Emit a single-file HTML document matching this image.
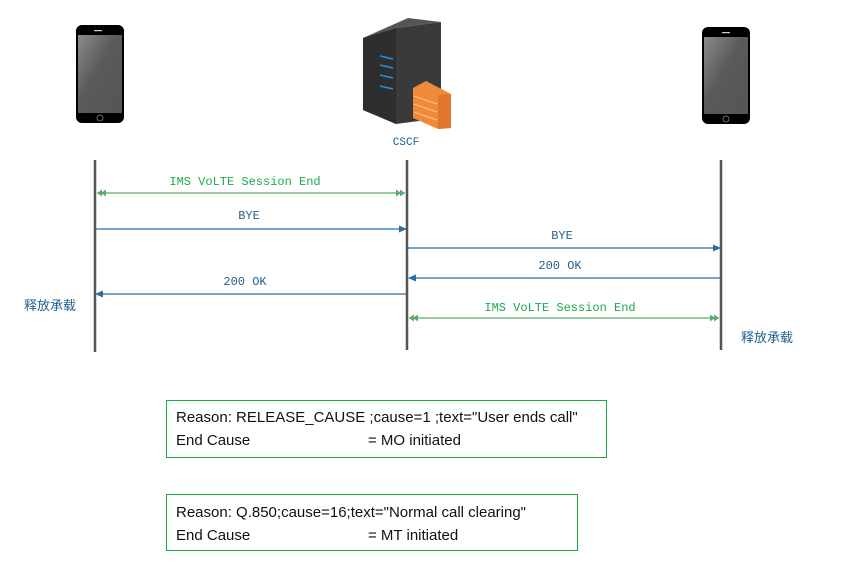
<!DOCTYPE html>
<html><head><meta charset="utf-8"><style>
html,body{margin:0;padding:0;background:#fff;}
svg{display:block;}
.m{font-family:"Liberation Mono","Noto Sans CJK SC",monospace;font-size:12px;}
.c{font-family:"Liberation Sans","Noto Sans CJK SC",sans-serif;font-size:13px;fill:#1f5f8f;}
.b{font-family:"Liberation Sans",sans-serif;font-size:15px;fill:#111;}
</style></head><body>
<svg width="859" height="568" viewBox="0 0 859 568" xmlns="http://www.w3.org/2000/svg">
<defs>
<linearGradient id="scr" x1="0" y1="0" x2="1" y2="1"><stop offset="0" stop-color="#8a8a8a"/><stop offset="0.45" stop-color="#5a5a5a"/><stop offset="1" stop-color="#555"/></linearGradient>
<marker id="ab" markerWidth="8" markerHeight="8" refX="7" refY="4" orient="auto" markerUnits="userSpaceOnUse"><path d="M0,0.5 L8,4 L0,7.5 z" fill="#2b6ea3"/></marker>
<marker id="ag" markerWidth="10" markerHeight="8" refX="9" refY="4" orient="auto" markerUnits="userSpaceOnUse"><path d="M0,0.5 L5,4 L0,7.5 z M4,0.5 L9,4 L4,7.5 z" fill="#5aaa70"/></marker>
<marker id="agS" markerWidth="10" markerHeight="8" refX="1" refY="4" orient="auto" markerUnits="userSpaceOnUse"><path d="M10,0.5 L5,4 L10,7.5 z M6,0.5 L1,4 L6,7.5 z" fill="#5aaa70"/></marker>
</defs>
<rect x="76" y="25" width="48" height="98" rx="6" fill="#000"/>
<rect x="78" y="35" width="44" height="78" fill="url(#scr)"/>
<circle cx="100" cy="118" r="3" fill="none" stroke="#888" stroke-width="0.8"/>
<rect x="94" y="30" width="8" height="1.2" fill="#ccc"/>
<polygon points="363,38 396,28 441,22 441,118 396,124 363,110" fill="#3a3a3a"/>
<polygon points="363,38 396,28 441,22 408,18" fill="#555"/>
<polygon points="363,38 396,28 396,124 363,110" fill="#2e2e2e"/>
<g stroke="#1e90e0" stroke-width="1.6"><line x1="380" y1="56" x2="393" y2="59"/><line x1="380" y1="65" x2="393" y2="68"/><line x1="380" y1="75" x2="393" y2="78"/><line x1="380" y1="86" x2="393" y2="89"/></g>
<polygon points="413,88 426,81 451,94 451,128 438,129 413,118" fill="#f08a38"/>
<polygon points="438,95 451,94 451,128 438,129" fill="#e0772a"/>
<g stroke="#fbd2a8" stroke-width="0.8"><line x1="414" y1="96" x2="437" y2="104"/><line x1="414" y1="104" x2="437" y2="112"/><line x1="414" y1="112" x2="437" y2="120"/></g>
<text x="406" y="145" text-anchor="middle" fill="#1f5f8f" style="font-family:'Liberation Mono',monospace;font-size:11px">CSCF</text>
<rect x="702" y="27" width="48" height="97" rx="6" fill="#000"/>
<rect x="704" y="37" width="44" height="77" fill="url(#scr)"/>
<circle cx="726" cy="119" r="3" fill="none" stroke="#888" stroke-width="0.8"/>
<rect x="722" y="32" width="8" height="1.2" fill="#ccc"/>
<g stroke="#555" stroke-width="2.5"><line x1="95" y1="160" x2="95" y2="352"/><line x1="407" y1="160" x2="407" y2="350"/><line x1="721" y1="160" x2="721" y2="350"/></g>
<line x1="97" y1="193" x2="405" y2="193" stroke="#5aaa70" stroke-width="1.2" marker-end="url(#ag)" marker-start="url(#agS)"/>
<text x="245" y="185" class="m" fill="#1aaa4a" text-anchor="middle">IMS VoLTE Session End</text>
<line x1="96" y1="229" x2="406" y2="229" stroke="#2b6ea3" stroke-width="1.2" marker-end="url(#ab)"/>
<text x="249" y="219" class="m" fill="#1f5f8f" text-anchor="middle">BYE</text>
<line x1="408" y1="248" x2="720" y2="248" stroke="#2b6ea3" stroke-width="1.2" marker-end="url(#ab)"/>
<text x="562" y="239" class="m" fill="#1f5f8f" text-anchor="middle">BYE</text>
<line x1="720" y1="278" x2="409" y2="278" stroke="#2b6ea3" stroke-width="1.2" marker-end="url(#ab)"/>
<text x="560" y="269" class="m" fill="#1f5f8f" text-anchor="middle">200 OK</text>
<line x1="406" y1="294" x2="96" y2="294" stroke="#2b6ea3" stroke-width="1.2" marker-end="url(#ab)"/>
<text x="245" y="285" class="m" fill="#1f5f8f" text-anchor="middle">200 OK</text>
<line x1="409" y1="318" x2="719" y2="318" stroke="#5aaa70" stroke-width="1.2" marker-end="url(#ag)" marker-start="url(#agS)"/>
<text x="560" y="311" class="m" fill="#1aaa4a" text-anchor="middle">IMS VoLTE Session End</text>
<text x="24" y="310" class="c">释放承载</text>
<text x="741" y="342" class="c">释放承载</text>
<rect x="166.5" y="400.5" width="440" height="57" fill="none" stroke="#1aaa4a" stroke-width="1"/>
<text x="176" y="422" class="b">Reason: RELEASE_CAUSE ;cause=1 ;text="User ends call"</text>
<text x="176" y="445" class="b">End Cause</text><text x="368" y="445" class="b">= MO initiated</text>
<rect x="166.5" y="494.5" width="411" height="56" fill="none" stroke="#1aaa4a" stroke-width="1"/>
<text x="176" y="517" class="b">Reason: Q.850;cause=16;text="Normal call clearing"</text>
<text x="176" y="540" class="b">End Cause</text><text x="368" y="540" class="b">= MT initiated</text>
</svg>
</body></html>
